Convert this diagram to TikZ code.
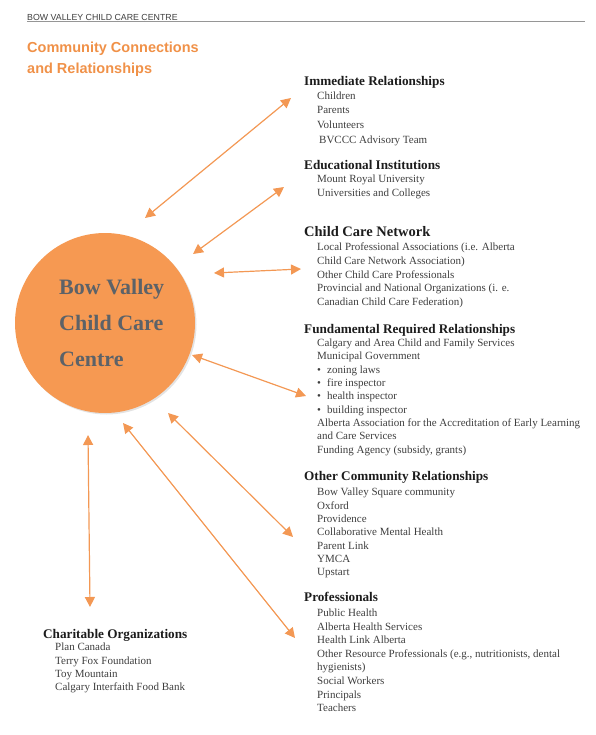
\documentclass[tikz,border=0pt]{standalone}
\usepackage{fontspec}
\setmainfont{Liberation Serif}
\setsansfont{Liberation Sans}
\usetikzlibrary{arrows.meta,shadows}
\definecolor{bvorange}{RGB}{246,153,82}
\definecolor{bvarrow}{RGB}{243,152,84}
\definecolor{bvtitle}{RGB}{240,145,72}
\definecolor{bvslate}{RGB}{92,98,104}
\definecolor{bvink}{RGB}{28,28,28}
\definecolor{bvtext}{RGB}{62,62,62}
\definecolor{bvrule}{RGB}{150,150,150}

\begin{document}
\begin{tikzpicture}[x=1pt,y=-1pt,
    hub/.style={circle, fill=bvorange, minimum size=180pt, inner sep=0pt,
      drop shadow={opacity=0.22, shadow xshift=1.5pt, shadow yshift=-1.5pt}},
    hubtext/.style={anchor=west, align=left, inner sep=0pt, text=bvslate,
      font=\fontsize{22}{36}\selectfont\bfseries},
    titletext/.style={anchor=west, inner sep=0pt, text height=10.4pt, text depth=0pt,
      text=bvtitle, font=\sffamily\bfseries\fontsize{14.5}{17}\selectfont},
    grouphead/.style={anchor=west, inner sep=0pt, text height=8.7pt, text depth=0pt,
      text=bvink, font=\fontsize{13.2}{15}\selectfont\bfseries},
    bighead/.style={grouphead, text height=9.6pt, font=\fontsize{14.5}{17}\selectfont\bfseries},
    groupitem/.style={anchor=west, inner sep=0pt, text height=7.3pt, text depth=0pt,
      text=bvtext, font=\fontsize{11}{13}\selectfont},
    link/.style={draw=bvarrow, line width=1.2pt,
      {Triangle[length=10pt,width=10pt]}-{Triangle[length=10pt,width=10pt]}}]
    \useasboundingbox (0,0) rectangle (595,735);

    % Header
    \node[anchor=west, inner sep=0pt, text height=6.2pt, text depth=0pt, text=bvtext,
      font=\sffamily\fontsize{8.8}{10}\selectfont] (banner) at (27,17.5) {BOW VALLEY CHILD CARE CENTRE};
    \draw[bvrule, line width=0.8pt] (27,21.5) -- (585,21.5);
    \node[titletext] (title1) at (27,47) {Community Connections};
    \node[titletext] (title2) at (27,68) {and Relationships};

    % Centre
    \node[hub] (bvccc) at (105,323) {};
    \node[hubtext] (bvcccname) at (59,322.5) {Bow Valley\\Child Care\\Centre};

    % Immediate Relationships
    \node[grouphead] (immhead) at (304,81) {Immediate Relationships};
    \foreach \name [count=\i] in {Children, Parents, Volunteers, {\hspace{2pt}BVCCC Advisory Team}}
        \node[groupitem] (imm\i) at (317,{81+14.6*\i}) {\name};

    % Educational Institutions
    \node[grouphead] (eduhead) at (304,165) {Educational Institutions};
    \foreach \name [count=\i] in {Mount Royal University, Universities and Colleges}
        \node[groupitem] (edu\i) at (317,{165+14*\i}) {\name};

    % Child Care Network
    \node[bighead] (ccnhead) at (304,232) {Child Care Network};
    \foreach \name [count=\i] in {Local Professional Associations (i.e. Alberta,
        Child Care Network Association), Other Child Care Professionals,
        Provincial and National Organizations (i. e., Canadian Child Care Federation)}
        \node[groupitem] (ccn\i) at (317,{233.5+13.7*\i}) {\name};

    % Fundamental Required Relationships
    \node[grouphead] (frrhead) at (304,329) {Fundamental Required Relationships};
    \foreach \name [count=\i] in {Calgary and Area Child and Family Services, Municipal Government,
        \makebox[10pt][l]{\textbullet}zoning laws, \makebox[10pt][l]{\textbullet}fire inspector,
        \makebox[10pt][l]{\textbullet}health inspector, \makebox[10pt][l]{\textbullet}building inspector,
        Alberta Association for the Accreditation of Early Learning,
        and Care Services, {Funding Agency (subsidy, grants)}}
        \node[groupitem] (frr\i) at (317,{329.7+13.3*\i}) {\name};

    % Other Community Relationships
    \node[grouphead] (ocrhead) at (304,476) {Other Community Relationships};
    \foreach \name [count=\i] in {Bow Valley Square community, Oxford, Providence,
        Collaborative Mental Health, Parent Link, YMCA, Upstart}
        \node[groupitem] (ocr\i) at (317,{478.7+13.33*\i}) {\name};

    % Professionals
    \node[grouphead] (prohead) at (304,597) {Professionals};
    \foreach \name [count=\i] in {Public Health, Alberta Health Services, Health Link Alberta,
        {Other Resource Professionals (e.g., nutritionists, dental}, hygienists),
        Social Workers, Principals, Teachers}
        \node[groupitem] (pro\i) at (317,{599.4+13.57*\i}) {\name};

    % Charitable Organizations
    \node[grouphead] (charhead) at (43,634) {Charitable Organizations};
    \foreach \name [count=\i] in {Plan Canada, Terry Fox Foundation, Toy Mountain,
        Calgary Interfaith Food Bank}
        \node[groupitem] (char\i) at (55,{633.7+13.33*\i}) {\name};

    % Links
    \coordinate (immhub) at (145,218);  \coordinate (immend) at (291,98);
    \coordinate (eduhub) at (193,254);  \coordinate (eduend) at (284,187);
    \coordinate (ccnhub) at (214,273);  \coordinate (ccnend) at (301,269);
    \coordinate (frrhub) at (192,355);  \coordinate (frrend) at (306,396);
    \coordinate (ocrhub) at (168,413);  \coordinate (ocrend) at (293,537);
    \coordinate (prohub) at (123,423);  \coordinate (proend) at (295,638);
    \coordinate (charhub) at (88,435);  \coordinate (charend) at (90,607);
    \draw[link] (immhub) -- (immend);
    \draw[link] (eduhub) -- (eduend);
    \draw[link] (ccnhub) -- (ccnend);
    \draw[link] (frrhub) -- (frrend);
    \draw[link] (ocrhub) -- (ocrend);
    \draw[link] (prohub) -- (proend);
    \draw[link] (charhub) -- (charend);
\end{tikzpicture}
\end{document}
